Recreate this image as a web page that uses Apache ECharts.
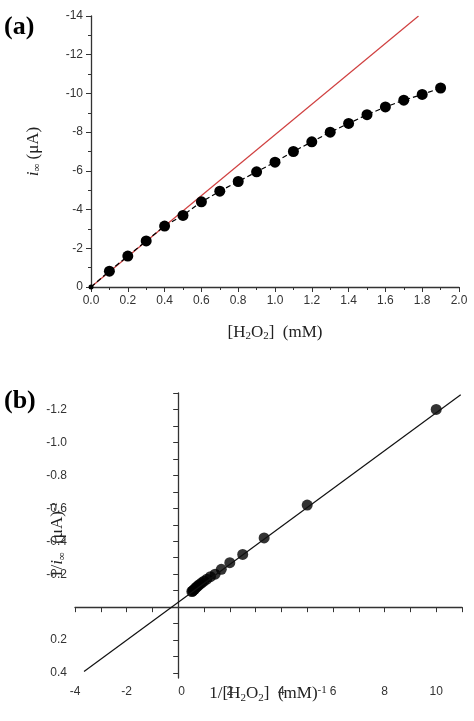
<!DOCTYPE html>
<html><head><meta charset="utf-8">
<script src="https://cdn.jsdelivr.net/npm/echarts@6/dist/echarts.min.js"></script>
<style>html,body{margin:0;background:#fff}#c{width:474px;height:721px}</style>
</head><body><div id="c"></div>
<script>
// panel (a): steady-state current vs concentration
var concA = [0, 0.1, 0.2, 0.3, 0.4, 0.5, 0.6, 0.7, 0.8, 0.9, 1.0, 1.1, 1.2, 1.3, 1.4, 1.5, 1.6, 1.7, 1.8, 1.9];
var currA = [0, -0.82, -1.6, -2.38, -3.15, -3.7, -4.4, -4.95, -5.45, -5.95, -6.45, -7.0, -7.5, -8.0, -8.45, -8.9, -9.3, -9.65, -9.95, -10.28];
var fitA = [[0, 0], [1.78, -14]];
// panel (b): double reciprocal
var invConc = [10, 5, 3.33, 2.5, 2.0, 1.67, 1.43, 1.25, 1.11, 1.0, 0.91, 0.83, 0.77, 0.71, 0.67, 0.63, 0.59, 0.56, 0.53];
var invCurr = [-1.2, -0.62, -0.42, -0.32, -0.27, -0.23, -0.2, -0.185, -0.17, -0.158, -0.148, -0.138, -0.13, -0.122, -0.115, -0.108, -0.103, -0.098, -0.095];
var fitB = [[-3.65, 0.39], [10.95, -1.29]];

var F = 'Liberation Sans';
var ser = 'Liberation Serif';
function pairs(xs, ys) { return xs.map(function (x, i) { return [x, ys[i]]; }); }
var axLine = {lineStyle: {color: '#333', width: 1.3}};
var tk = {length: 5, lineStyle: {color: '#333'}};
var mtk = {show: true, splitNumber: 2, length: 3, lineStyle: {color: '#333'}};
var lab = {fontFamily: F, fontSize: 12, color: '#333'};
var richT = {
  i: {fontStyle: 'italic', fontSize: 17, fontFamily: ser, fill: '#222'},
  s: {fontSize: 11, verticalAlign: 'bottom', padding: [8, 0, 0, 0], fontFamily: ser},
  u: {fontSize: 11, verticalAlign: 'top', padding: [0, 0, 8, 0], fontFamily: ser}
};
function isEven(v) { return Math.abs(Math.round(v) % 2) === 0; }

var chart = echarts.init(document.getElementById('c'));
chart.setOption({
  animation: false,
  grid: [
    {left: 91, right: 15, top: 16, bottom: 434, outerBoundsMode: 'none'},
    {left: 75, right: 12, top: 393, bottom: 43, outerBoundsMode: 'none'}
  ],
  xAxis: [
    {gridIndex: 0, type: 'value', min: 0, max: 2, interval: 0.2,
     axisLine: axLine, axisTick: tk, minorTick: mtk, splitLine: {show: false},
     axisLabel: Object.assign({formatter: function (v) { return v.toFixed(1); }}, lab),
     name: '[H{s|2}O{s|2}]  (mM)', nameLocation: 'middle', nameGap: 36,
     nameTextStyle: {fontFamily: ser, fontSize: 17, color: '#222', rich: richT}},
    {gridIndex: 1, type: 'value', min: -4, max: 11, interval: 1,
     axisLine: Object.assign({onZero: true}, axLine), axisTick: tk, splitLine: {show: false},
     axisLabel: Object.assign({formatter: function (v) { return !isEven(v) ? '' : (v === 0 ? '  0' : String(v)); }}, lab)}
  ],
  yAxis: [
    {gridIndex: 0, type: 'value', min: -14, max: 0, interval: 2, inverse: true,
     axisLine: axLine, axisTick: tk, minorTick: mtk, splitLine: {show: false}, axisLabel: lab,
     name: '{i|i}{s|∞} (μA)', nameLocation: 'middle', nameGap: 48,
     nameTextStyle: {fontFamily: ser, fontSize: 17, color: '#222', rich: richT}},
    {gridIndex: 1, type: 'value', min: -1.3, max: 0.43, interval: 0.1, inverse: true,
     axisLine: Object.assign({onZero: true}, axLine), axisTick: tk, splitLine: {show: false},
     axisLabel: Object.assign({showMaxLabel: false, formatter: function (v) {
       var t = Math.round(v * 10);
       return (t === 0 || t % 2 !== 0) ? '' : v.toFixed(1);
     }}, lab)}
  ],
  series: [
    {type: 'line', xAxisIndex: 0, yAxisIndex: 0, data: fitA, symbol: 'none', lineStyle: {color: '#d04040', width: 1.2}, z: 3},
    {type: 'line', xAxisIndex: 0, yAxisIndex: 0, data: pairs(concA, currA), symbol: 'circle',
     symbolSize: function (v) { return v[0] === 0 ? 5 : 11; },
     itemStyle: {color: '#000'}, lineStyle: {color: '#000', width: 1.2, type: [5, 3]}, z: 4},
    {type: 'line', xAxisIndex: 1, yAxisIndex: 1, data: fitB, symbol: 'none', lineStyle: {color: '#111', width: 1.2}},
    {type: 'scatter', xAxisIndex: 1, yAxisIndex: 1, data: pairs(invConc, invCurr), symbolSize: 11, itemStyle: {color: '#000'}}
  ],
  graphic: [
    {type: 'text', left: 4, top: 14, style: {text: '(a)', fontFamily: ser, fontWeight: 'bold', fontSize: 26, fill: '#000'}},
    {type: 'text', left: 4, top: 388, style: {text: '(b)', fontFamily: ser, fontWeight: 'bold', fontSize: 26, fill: '#000'}},
    {type: 'text', x: 268, y: 694, style: {text: '1/[H{s|2}O{s|2}]  (mM){u|-1}', fontFamily: ser, fontSize: 17, fill: '#222', align: 'center', verticalAlign: 'middle', rich: richT}},
    {type: 'text', x: 58, y: 540, rotation: Math.PI / 2, style: {text: '1/{i|i}{s|∞}  (μA){u|-1}', fontFamily: ser, fontSize: 17, fill: '#222', align: 'center', verticalAlign: 'middle', rich: richT}}
  ]
});
</script></body></html>
